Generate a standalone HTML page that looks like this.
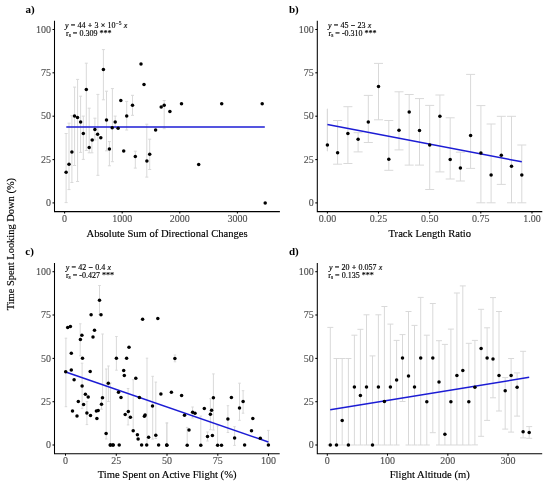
<!DOCTYPE html><html><head><meta charset="utf-8"><style>html,body{margin:0;padding:0;background:#fff;}svg{display:block;}</style></head><body>
<svg width="550" height="486" viewBox="0 0 550 486" font-family='"Liberation Serif", "Times New Roman", serif'>
<rect width="550" height="486" fill="#fff"/>
<g stroke="#d9d9d9" stroke-width="1" fill="none">
<line x1="66.1" y1="133.5" x2="66.1" y2="202.6"/><line x1="64.6" y1="133.5" x2="67.6" y2="133.5"/><line x1="64.6" y1="202.6" x2="67.6" y2="202.6"/>
<line x1="69.0" y1="123.2" x2="69.0" y2="189.6"/><line x1="67.5" y1="123.2" x2="70.5" y2="123.2"/><line x1="67.5" y1="189.6" x2="70.5" y2="189.6"/>
<line x1="71.9" y1="115.7" x2="71.9" y2="182.5"/><line x1="70.4" y1="115.7" x2="73.4" y2="115.7"/><line x1="70.4" y1="182.5" x2="73.4" y2="182.5"/>
<line x1="74.6" y1="87.1" x2="74.6" y2="165.5"/><line x1="73.1" y1="87.1" x2="76.1" y2="87.1"/><line x1="73.1" y1="165.5" x2="76.1" y2="165.5"/>
<line x1="77.6" y1="79.4" x2="77.6" y2="181.5"/><line x1="76.1" y1="79.4" x2="79.1" y2="79.4"/><line x1="76.1" y1="181.5" x2="79.1" y2="181.5"/>
<line x1="80.6" y1="96.2" x2="80.6" y2="152.4"/><line x1="79.1" y1="96.2" x2="82.1" y2="96.2"/><line x1="79.1" y1="152.4" x2="82.1" y2="152.4"/>
<line x1="83.3" y1="116.1" x2="83.3" y2="159.4"/><line x1="81.8" y1="116.1" x2="84.8" y2="116.1"/><line x1="81.8" y1="159.4" x2="84.8" y2="159.4"/>
<line x1="86.3" y1="63.2" x2="86.3" y2="150.5"/><line x1="84.8" y1="63.2" x2="87.8" y2="63.2"/><line x1="84.8" y1="150.5" x2="87.8" y2="150.5"/>
<line x1="89.2" y1="108.2" x2="89.2" y2="152.8"/><line x1="87.7" y1="108.2" x2="90.7" y2="108.2"/><line x1="87.7" y1="152.8" x2="90.7" y2="152.8"/>
<line x1="91.9" y1="140.0" x2="91.9" y2="152.8"/><line x1="90.4" y1="140.0" x2="93.4" y2="140.0"/><line x1="90.4" y1="152.8" x2="93.4" y2="152.8"/>
<line x1="94.9" y1="118.2" x2="94.9" y2="140.0"/><line x1="93.4" y1="118.2" x2="96.4" y2="118.2"/><line x1="93.4" y1="140.0" x2="96.4" y2="140.0"/>
<line x1="97.9" y1="94.4" x2="97.9" y2="175.3"/><line x1="96.4" y1="94.4" x2="99.4" y2="94.4"/><line x1="96.4" y1="175.3" x2="99.4" y2="175.3"/>
<line x1="103.4" y1="49.6" x2="103.4" y2="99.8"/><line x1="101.9" y1="49.6" x2="104.9" y2="49.6"/><line x1="101.9" y1="99.8" x2="104.9" y2="99.8"/>
<line x1="106.5" y1="91.2" x2="106.5" y2="150.8"/><line x1="105.0" y1="91.2" x2="108.0" y2="91.2"/><line x1="105.0" y1="150.8" x2="108.0" y2="150.8"/>
<line x1="109.4" y1="141.6" x2="109.4" y2="165.8"/><line x1="107.9" y1="141.6" x2="110.9" y2="141.6"/><line x1="107.9" y1="165.8" x2="110.9" y2="165.8"/>
<line x1="112.4" y1="88.6" x2="112.4" y2="161.7"/><line x1="110.9" y1="88.6" x2="113.9" y2="88.6"/><line x1="110.9" y1="161.7" x2="113.9" y2="161.7"/>
<line x1="115.2" y1="116.1" x2="115.2" y2="128.0"/><line x1="113.7" y1="116.1" x2="116.7" y2="116.1"/><line x1="113.7" y1="128.0" x2="116.7" y2="128.0"/>
<line x1="126.7" y1="101.4" x2="126.7" y2="130.0"/><line x1="125.2" y1="101.4" x2="128.2" y2="101.4"/><line x1="125.2" y1="130.0" x2="128.2" y2="130.0"/>
<line x1="132.5" y1="95.3" x2="132.5" y2="115.3"/><line x1="131.0" y1="95.3" x2="134.0" y2="95.3"/><line x1="131.0" y1="115.3" x2="134.0" y2="115.3"/>
<line x1="164.2" y1="100.5" x2="164.2" y2="128.7"/><line x1="162.7" y1="100.5" x2="165.7" y2="100.5"/><line x1="162.7" y1="128.7" x2="165.7" y2="128.7"/>
<line x1="146.8" y1="124.2" x2="146.8" y2="177.1"/><line x1="145.3" y1="124.2" x2="148.3" y2="124.2"/><line x1="145.3" y1="177.1" x2="148.3" y2="177.1"/>
<line x1="149.7" y1="139.2" x2="149.7" y2="169.5"/><line x1="148.2" y1="139.2" x2="151.2" y2="139.2"/><line x1="148.2" y1="169.5" x2="151.2" y2="169.5"/>
<line x1="135.3" y1="151.2" x2="135.3" y2="168.1"/><line x1="133.8" y1="151.2" x2="136.8" y2="151.2"/><line x1="133.8" y1="168.1" x2="136.8" y2="168.1"/>
<line x1="327.4" y1="108.8" x2="327.4" y2="151.2"/>
<line x1="327.4" y1="108.8" x2="327.4" y2="151.2"/>
<line x1="337.6" y1="120.5" x2="337.6" y2="164.2"/><line x1="333.1" y1="120.5" x2="342.1" y2="120.5"/><line x1="333.1" y1="164.2" x2="342.1" y2="164.2"/>
<line x1="347.9" y1="106.7" x2="347.9" y2="163.5"/><line x1="343.4" y1="106.7" x2="352.4" y2="106.7"/><line x1="343.4" y1="163.5" x2="352.4" y2="163.5"/>
<line x1="358.1" y1="132.7" x2="358.1" y2="151.9"/><line x1="353.6" y1="132.7" x2="362.6" y2="132.7"/><line x1="353.6" y1="151.9" x2="362.6" y2="151.9"/>
<line x1="368.3" y1="95.4" x2="368.3" y2="142.5"/><line x1="363.8" y1="95.4" x2="372.8" y2="95.4"/><line x1="363.8" y1="142.5" x2="372.8" y2="142.5"/>
<line x1="378.5" y1="63.4" x2="378.5" y2="119.8"/><line x1="374.0" y1="63.4" x2="383.0" y2="63.4"/><line x1="374.0" y1="119.8" x2="383.0" y2="119.8"/>
<line x1="388.8" y1="120.5" x2="388.8" y2="170.3"/><line x1="384.3" y1="120.5" x2="393.3" y2="120.5"/><line x1="384.3" y1="170.3" x2="393.3" y2="170.3"/>
<line x1="399.0" y1="91.8" x2="399.0" y2="149.9"/><line x1="394.5" y1="91.8" x2="403.5" y2="91.8"/><line x1="394.5" y1="149.9" x2="403.5" y2="149.9"/>
<line x1="409.2" y1="94.5" x2="409.2" y2="165.1"/><line x1="404.7" y1="94.5" x2="413.7" y2="94.5"/><line x1="404.7" y1="165.1" x2="413.7" y2="165.1"/>
<line x1="419.5" y1="98.6" x2="419.5" y2="165.1"/><line x1="415.0" y1="98.6" x2="424.0" y2="98.6"/><line x1="415.0" y1="165.1" x2="424.0" y2="165.1"/>
<line x1="429.7" y1="105.4" x2="429.7" y2="189.5"/><line x1="425.2" y1="105.4" x2="434.2" y2="105.4"/><line x1="425.2" y1="189.5" x2="434.2" y2="189.5"/>
<line x1="439.9" y1="95.0" x2="439.9" y2="171.9"/><line x1="435.4" y1="95.0" x2="444.4" y2="95.0"/><line x1="435.4" y1="171.9" x2="444.4" y2="171.9"/>
<line x1="450.2" y1="117.8" x2="450.2" y2="179.0"/><line x1="445.7" y1="117.8" x2="454.7" y2="117.8"/><line x1="445.7" y1="179.0" x2="454.7" y2="179.0"/>
<line x1="460.4" y1="152.2" x2="460.4" y2="181.0"/><line x1="455.9" y1="152.2" x2="464.9" y2="152.2"/><line x1="455.9" y1="181.0" x2="464.9" y2="181.0"/>
<line x1="470.6" y1="74.4" x2="470.6" y2="168.4"/><line x1="466.1" y1="74.4" x2="475.1" y2="74.4"/><line x1="466.1" y1="168.4" x2="475.1" y2="168.4"/>
<line x1="480.9" y1="105.6" x2="480.9" y2="202.8"/><line x1="476.4" y1="105.6" x2="485.4" y2="105.6"/><line x1="476.4" y1="202.8" x2="485.4" y2="202.8"/>
<line x1="491.1" y1="124.0" x2="491.1" y2="202.8"/><line x1="486.6" y1="124.0" x2="495.6" y2="124.0"/><line x1="486.6" y1="202.8" x2="495.6" y2="202.8"/>
<line x1="501.3" y1="116.3" x2="501.3" y2="184.4"/><line x1="496.8" y1="116.3" x2="505.8" y2="116.3"/><line x1="496.8" y1="184.4" x2="505.8" y2="184.4"/>
<line x1="511.5" y1="116.3" x2="511.5" y2="202.8"/><line x1="507.0" y1="116.3" x2="516.0" y2="116.3"/><line x1="507.0" y1="202.8" x2="516.0" y2="202.8"/>
<line x1="521.8" y1="145.0" x2="521.8" y2="202.8"/><line x1="517.3" y1="145.0" x2="526.3" y2="145.0"/><line x1="517.3" y1="202.8" x2="526.3" y2="202.8"/>
<line x1="99.5" y1="285.5" x2="99.5" y2="314.5"/><line x1="98.2" y1="285.5" x2="100.8" y2="285.5"/><line x1="98.2" y1="314.5" x2="100.8" y2="314.5"/>
<line x1="80.2" y1="323.8" x2="80.2" y2="355.8"/><line x1="79.0" y1="323.8" x2="81.5" y2="323.8"/><line x1="79.0" y1="355.8" x2="81.5" y2="355.8"/>
<line x1="102.6" y1="334.0" x2="102.6" y2="398.0"/><line x1="101.3" y1="334.0" x2="103.8" y2="334.0"/><line x1="101.3" y1="398.0" x2="103.8" y2="398.0"/>
<line x1="65.9" y1="338.2" x2="65.9" y2="406.7"/><line x1="64.7" y1="338.2" x2="67.2" y2="338.2"/><line x1="64.7" y1="406.7" x2="67.2" y2="406.7"/>
<line x1="82.1" y1="363.2" x2="82.1" y2="408.6"/><line x1="80.8" y1="363.2" x2="83.3" y2="363.2"/><line x1="80.8" y1="408.6" x2="83.3" y2="408.6"/>
<line x1="106.2" y1="369.0" x2="106.2" y2="439.0"/><line x1="105.0" y1="369.0" x2="107.5" y2="369.0"/><line x1="105.0" y1="439.0" x2="107.5" y2="439.0"/>
<line x1="108.4" y1="366.0" x2="108.4" y2="401.5"/><line x1="107.2" y1="366.0" x2="109.7" y2="366.0"/><line x1="107.2" y1="401.5" x2="109.7" y2="401.5"/>
<line x1="86.9" y1="401.6" x2="86.9" y2="424.6"/><line x1="85.7" y1="401.6" x2="88.2" y2="401.6"/><line x1="85.7" y1="424.6" x2="88.2" y2="424.6"/>
<line x1="101.5" y1="398.0" x2="101.5" y2="409.2"/><line x1="100.2" y1="398.0" x2="102.8" y2="398.0"/><line x1="100.2" y1="409.2" x2="102.8" y2="409.2"/>
<line x1="110.4" y1="383.0" x2="110.4" y2="445.0"/><line x1="109.2" y1="383.0" x2="111.7" y2="383.0"/><line x1="109.2" y1="445.0" x2="111.7" y2="445.0"/>
<line x1="116.4" y1="336.5" x2="116.4" y2="370.2"/><line x1="115.2" y1="336.5" x2="117.7" y2="336.5"/><line x1="115.2" y1="370.2" x2="117.7" y2="370.2"/>
<line x1="147.0" y1="358.2" x2="147.0" y2="445.0"/><line x1="145.8" y1="358.2" x2="148.2" y2="358.2"/><line x1="145.8" y1="445.0" x2="148.2" y2="445.0"/>
<line x1="152.7" y1="376.3" x2="152.7" y2="439.1"/><line x1="151.4" y1="376.3" x2="153.9" y2="376.3"/><line x1="151.4" y1="439.1" x2="153.9" y2="439.1"/>
<line x1="155.8" y1="382.1" x2="155.8" y2="438.5"/><line x1="154.6" y1="382.1" x2="157.1" y2="382.1"/><line x1="154.6" y1="438.5" x2="157.1" y2="438.5"/>
<line x1="133.2" y1="379.7" x2="133.2" y2="430.8"/><line x1="131.9" y1="379.7" x2="134.4" y2="379.7"/><line x1="131.9" y1="430.8" x2="134.4" y2="430.8"/>
<line x1="128.1" y1="388.5" x2="128.1" y2="424.9"/><line x1="126.8" y1="388.5" x2="129.3" y2="388.5"/><line x1="126.8" y1="424.9" x2="129.3" y2="424.9"/>
<line x1="174.9" y1="355.0" x2="174.9" y2="361.8"/><line x1="173.7" y1="355.0" x2="176.2" y2="355.0"/><line x1="173.7" y1="361.8" x2="176.2" y2="361.8"/>
<line x1="166.8" y1="423.1" x2="166.8" y2="445.0"/><line x1="165.6" y1="423.1" x2="168.1" y2="423.1"/><line x1="165.6" y1="445.0" x2="168.1" y2="445.0"/>
<line x1="166.9" y1="422.9" x2="166.9" y2="445.0"/><line x1="165.7" y1="422.9" x2="168.2" y2="422.9"/><line x1="165.7" y1="445.0" x2="168.2" y2="445.0"/>
<line x1="187.2" y1="427.4" x2="187.2" y2="445.0"/><line x1="185.9" y1="427.4" x2="188.4" y2="427.4"/><line x1="185.9" y1="445.0" x2="188.4" y2="445.0"/>
<line x1="200.8" y1="416.1" x2="200.8" y2="445.0"/><line x1="199.6" y1="416.1" x2="202.1" y2="416.1"/><line x1="199.6" y1="445.0" x2="202.1" y2="445.0"/>
<line x1="192.6" y1="407.0" x2="192.6" y2="418.0"/><line x1="191.3" y1="407.0" x2="193.8" y2="407.0"/><line x1="191.3" y1="418.0" x2="193.8" y2="418.0"/>
<line x1="210.4" y1="398.7" x2="210.4" y2="429.7"/><line x1="209.2" y1="398.7" x2="211.7" y2="398.7"/><line x1="209.2" y1="429.7" x2="211.7" y2="429.7"/>
<line x1="213.4" y1="373.9" x2="213.4" y2="430.0"/><line x1="212.2" y1="373.9" x2="214.7" y2="373.9"/><line x1="212.2" y1="430.0" x2="214.7" y2="430.0"/>
<line x1="207.5" y1="432.0" x2="207.5" y2="441.0"/><line x1="206.2" y1="432.0" x2="208.8" y2="432.0"/><line x1="206.2" y1="441.0" x2="208.8" y2="441.0"/>
<line x1="217.6" y1="425.8" x2="217.6" y2="445.0"/><line x1="216.3" y1="425.8" x2="218.8" y2="425.8"/><line x1="216.3" y1="445.0" x2="218.8" y2="445.0"/>
<line x1="243.1" y1="390.7" x2="243.1" y2="413.2"/><line x1="241.8" y1="390.7" x2="244.3" y2="390.7"/><line x1="241.8" y1="413.2" x2="244.3" y2="413.2"/>
<line x1="239.5" y1="383.2" x2="239.5" y2="420.3"/><line x1="238.2" y1="383.2" x2="240.8" y2="383.2"/><line x1="238.2" y1="420.3" x2="240.8" y2="420.3"/>
<line x1="227.9" y1="405.7" x2="227.9" y2="432.5"/><line x1="226.7" y1="405.7" x2="229.2" y2="405.7"/><line x1="226.7" y1="432.5" x2="229.2" y2="432.5"/>
<line x1="234.6" y1="426.7" x2="234.6" y2="445.4"/><line x1="233.3" y1="426.7" x2="235.8" y2="426.7"/><line x1="233.3" y1="445.4" x2="235.8" y2="445.4"/>
<line x1="268.4" y1="430.4" x2="268.4" y2="445.0"/><line x1="267.1" y1="430.4" x2="269.6" y2="430.4"/><line x1="267.1" y1="445.0" x2="269.6" y2="445.0"/>
<line x1="330.3" y1="327.4" x2="330.3" y2="445.0"/><line x1="327.3" y1="327.4" x2="333.3" y2="327.4"/><line x1="327.3" y1="445.0" x2="333.3" y2="445.0"/>
<line x1="336.5" y1="358.5" x2="336.5" y2="445.0"/><line x1="333.5" y1="358.5" x2="339.5" y2="358.5"/><line x1="333.5" y1="445.0" x2="339.5" y2="445.0"/>
<line x1="342.2" y1="358.5" x2="342.2" y2="445.0"/><line x1="339.2" y1="358.5" x2="345.2" y2="358.5"/><line x1="339.2" y1="445.0" x2="345.2" y2="445.0"/>
<line x1="348.4" y1="358.5" x2="348.4" y2="445.0"/><line x1="345.4" y1="358.5" x2="351.4" y2="358.5"/><line x1="345.4" y1="445.0" x2="351.4" y2="445.0"/>
<line x1="354.4" y1="335.2" x2="354.4" y2="445.0"/><line x1="351.4" y1="335.2" x2="357.4" y2="335.2"/><line x1="351.4" y1="445.0" x2="357.4" y2="445.0"/>
<line x1="360.4" y1="329.3" x2="360.4" y2="445.0"/><line x1="357.4" y1="329.3" x2="363.4" y2="329.3"/><line x1="357.4" y1="445.0" x2="363.4" y2="445.0"/>
<line x1="366.5" y1="314.8" x2="366.5" y2="445.0"/><line x1="363.5" y1="314.8" x2="369.5" y2="314.8"/><line x1="363.5" y1="445.0" x2="369.5" y2="445.0"/>
<line x1="372.5" y1="355.9" x2="372.5" y2="445.0"/><line x1="369.5" y1="355.9" x2="375.5" y2="355.9"/><line x1="369.5" y1="445.0" x2="375.5" y2="445.0"/>
<line x1="378.4" y1="314.8" x2="378.4" y2="445.0"/><line x1="375.4" y1="314.8" x2="381.4" y2="314.8"/><line x1="375.4" y1="445.0" x2="381.4" y2="445.0"/>
<line x1="384.4" y1="306.5" x2="384.4" y2="445.0"/><line x1="381.4" y1="306.5" x2="387.4" y2="306.5"/><line x1="381.4" y1="445.0" x2="387.4" y2="445.0"/>
<line x1="390.4" y1="324.1" x2="390.4" y2="445.0"/><line x1="387.4" y1="324.1" x2="393.4" y2="324.1"/><line x1="387.4" y1="445.0" x2="393.4" y2="445.0"/>
<line x1="396.6" y1="340.4" x2="396.6" y2="445.0"/><line x1="393.6" y1="340.4" x2="399.6" y2="340.4"/><line x1="393.6" y1="445.0" x2="399.6" y2="445.0"/>
<line x1="402.5" y1="334.6" x2="402.5" y2="401.5"/><line x1="399.5" y1="334.6" x2="405.5" y2="334.6"/><line x1="399.5" y1="401.5" x2="405.5" y2="401.5"/>
<line x1="408.5" y1="311.5" x2="408.5" y2="445.0"/><line x1="405.5" y1="311.5" x2="411.5" y2="311.5"/><line x1="405.5" y1="445.0" x2="411.5" y2="445.0"/>
<line x1="414.5" y1="325.4" x2="414.5" y2="445.0"/><line x1="411.5" y1="325.4" x2="417.5" y2="325.4"/><line x1="411.5" y1="445.0" x2="417.5" y2="445.0"/>
<line x1="420.7" y1="297.4" x2="420.7" y2="445.0"/><line x1="417.7" y1="297.4" x2="423.7" y2="297.4"/><line x1="417.7" y1="445.0" x2="423.7" y2="445.0"/>
<line x1="426.8" y1="335.2" x2="426.8" y2="445.0"/><line x1="423.8" y1="335.2" x2="429.8" y2="335.2"/><line x1="423.8" y1="445.0" x2="429.8" y2="445.0"/>
<line x1="432.8" y1="303.5" x2="432.8" y2="432.7"/><line x1="429.8" y1="303.5" x2="435.8" y2="303.5"/><line x1="429.8" y1="432.7" x2="435.8" y2="432.7"/>
<line x1="439.0" y1="340.7" x2="439.0" y2="445.0"/><line x1="436.0" y1="340.7" x2="442.0" y2="340.7"/><line x1="436.0" y1="445.0" x2="442.0" y2="445.0"/>
<line x1="444.9" y1="344.4" x2="444.9" y2="445.0"/><line x1="441.9" y1="344.4" x2="447.9" y2="344.4"/><line x1="441.9" y1="445.0" x2="447.9" y2="445.0"/>
<line x1="450.9" y1="329.1" x2="450.9" y2="445.0"/><line x1="447.9" y1="329.1" x2="453.9" y2="329.1"/><line x1="447.9" y1="445.0" x2="453.9" y2="445.0"/>
<line x1="456.9" y1="293.0" x2="456.9" y2="445.0"/><line x1="453.9" y1="293.0" x2="459.9" y2="293.0"/><line x1="453.9" y1="445.0" x2="459.9" y2="445.0"/>
<line x1="462.8" y1="285.9" x2="462.8" y2="445.0"/><line x1="459.8" y1="285.9" x2="465.8" y2="285.9"/><line x1="459.8" y1="445.0" x2="465.8" y2="445.0"/>
<line x1="468.8" y1="343.3" x2="468.8" y2="445.0"/><line x1="465.8" y1="343.3" x2="471.8" y2="343.3"/><line x1="465.8" y1="445.0" x2="471.8" y2="445.0"/>
<line x1="474.9" y1="340.4" x2="474.9" y2="444.9"/><line x1="471.9" y1="340.4" x2="477.9" y2="340.4"/><line x1="471.9" y1="444.9" x2="477.9" y2="444.9"/>
<line x1="481.1" y1="309.3" x2="481.1" y2="436.3"/><line x1="478.1" y1="309.3" x2="484.1" y2="309.3"/><line x1="478.1" y1="436.3" x2="484.1" y2="436.3"/>
<line x1="487.1" y1="327.8" x2="487.1" y2="420.4"/><line x1="484.1" y1="327.8" x2="490.1" y2="327.8"/><line x1="484.1" y1="420.4" x2="490.1" y2="420.4"/>
<line x1="493.0" y1="297.6" x2="493.0" y2="397.8"/><line x1="490.0" y1="297.6" x2="496.0" y2="297.6"/><line x1="490.0" y1="397.8" x2="496.0" y2="397.8"/>
<line x1="499.0" y1="311.5" x2="499.0" y2="411.0"/><line x1="496.0" y1="311.5" x2="502.0" y2="311.5"/><line x1="496.0" y1="411.0" x2="502.0" y2="411.0"/>
<line x1="505.2" y1="377.6" x2="505.2" y2="429.1"/><line x1="502.2" y1="377.6" x2="508.2" y2="377.6"/><line x1="502.2" y1="429.1" x2="508.2" y2="429.1"/>
<line x1="511.1" y1="358.5" x2="511.1" y2="432.1"/><line x1="508.1" y1="358.5" x2="514.1" y2="358.5"/><line x1="508.1" y1="432.1" x2="514.1" y2="432.1"/>
<line x1="517.1" y1="372.9" x2="517.1" y2="416.1"/><line x1="514.1" y1="372.9" x2="520.1" y2="372.9"/><line x1="514.1" y1="416.1" x2="520.1" y2="416.1"/>
<line x1="523.1" y1="351.3" x2="523.1" y2="437.9"/><line x1="520.1" y1="351.3" x2="526.1" y2="351.3"/><line x1="520.1" y1="437.9" x2="526.1" y2="437.9"/>
<line x1="529.2" y1="426.6" x2="529.2" y2="438.3"/><line x1="526.2" y1="426.6" x2="532.2" y2="426.6"/><line x1="526.2" y1="438.3" x2="532.2" y2="438.3"/>
</g>
<g stroke="#1c1cd4" stroke-width="1.5" fill="none">
<line x1="66.3" y1="127.0" x2="264.8" y2="126.9"/>
<line x1="327.4" y1="124.6" x2="521.8" y2="161.8"/>
<line x1="65.0" y1="371.7" x2="268.4" y2="442.0"/>
<line x1="330.2" y1="409.7" x2="529.2" y2="377.3"/>
</g>
<g fill="#000">
<circle cx="103.4" cy="69.4" r="1.75"/>
<circle cx="86.3" cy="89.4" r="1.75"/>
<circle cx="120.8" cy="100.5" r="1.75"/>
<circle cx="126.7" cy="116.1" r="1.75"/>
<circle cx="74.5" cy="116.0" r="1.75"/>
<circle cx="77.5" cy="117.4" r="1.75"/>
<circle cx="80.6" cy="122.0" r="1.75"/>
<circle cx="106.5" cy="120.0" r="1.75"/>
<circle cx="115.2" cy="122.0" r="1.75"/>
<circle cx="112.2" cy="127.7" r="1.75"/>
<circle cx="118.1" cy="128.3" r="1.75"/>
<circle cx="94.9" cy="129.5" r="1.75"/>
<circle cx="83.3" cy="133.5" r="1.75"/>
<circle cx="97.6" cy="134.3" r="1.75"/>
<circle cx="100.8" cy="137.8" r="1.75"/>
<circle cx="92.2" cy="140.0" r="1.75"/>
<circle cx="89.2" cy="147.4" r="1.75"/>
<circle cx="109.4" cy="149.1" r="1.75"/>
<circle cx="66.1" cy="172.3" r="1.75"/>
<circle cx="69.0" cy="164.3" r="1.75"/>
<circle cx="71.9" cy="152.1" r="1.75"/>
<circle cx="123.7" cy="150.9" r="1.75"/>
<circle cx="141.0" cy="64.0" r="1.75"/>
<circle cx="144.0" cy="84.6" r="1.75"/>
<circle cx="132.5" cy="105.2" r="1.75"/>
<circle cx="161.2" cy="107.1" r="1.75"/>
<circle cx="164.2" cy="105.2" r="1.75"/>
<circle cx="169.9" cy="111.6" r="1.75"/>
<circle cx="181.5" cy="103.7" r="1.75"/>
<circle cx="155.6" cy="130.0" r="1.75"/>
<circle cx="135.3" cy="156.4" r="1.75"/>
<circle cx="146.9" cy="161.0" r="1.75"/>
<circle cx="149.7" cy="154.3" r="1.75"/>
<circle cx="198.7" cy="164.4" r="1.75"/>
<circle cx="221.7" cy="103.7" r="1.75"/>
<circle cx="262.2" cy="103.7" r="1.75"/>
<circle cx="265.2" cy="203.1" r="1.75"/>
<circle cx="327.4" cy="145.0" r="1.75"/>
<circle cx="337.6" cy="152.7" r="1.75"/>
<circle cx="347.9" cy="133.4" r="1.75"/>
<circle cx="358.1" cy="139.3" r="1.75"/>
<circle cx="368.3" cy="122.0" r="1.75"/>
<circle cx="378.5" cy="86.5" r="1.75"/>
<circle cx="388.8" cy="159.2" r="1.75"/>
<circle cx="399.0" cy="130.2" r="1.75"/>
<circle cx="409.2" cy="112.1" r="1.75"/>
<circle cx="419.5" cy="130.5" r="1.75"/>
<circle cx="429.7" cy="145.0" r="1.75"/>
<circle cx="439.9" cy="116.3" r="1.75"/>
<circle cx="450.2" cy="159.4" r="1.75"/>
<circle cx="460.4" cy="168.1" r="1.75"/>
<circle cx="470.6" cy="135.6" r="1.75"/>
<circle cx="480.9" cy="153.1" r="1.75"/>
<circle cx="491.1" cy="175.0" r="1.75"/>
<circle cx="501.3" cy="155.3" r="1.75"/>
<circle cx="511.5" cy="166.3" r="1.75"/>
<circle cx="521.8" cy="175.0" r="1.75"/>
<circle cx="99.5" cy="300.2" r="1.75"/>
<circle cx="91.1" cy="314.8" r="1.75"/>
<circle cx="101.0" cy="314.8" r="1.75"/>
<circle cx="67.7" cy="327.4" r="1.75"/>
<circle cx="70.4" cy="326.6" r="1.75"/>
<circle cx="94.5" cy="330.2" r="1.75"/>
<circle cx="81.9" cy="335.3" r="1.75"/>
<circle cx="93.0" cy="337.1" r="1.75"/>
<circle cx="80.4" cy="339.6" r="1.75"/>
<circle cx="71.3" cy="353.3" r="1.75"/>
<circle cx="82.5" cy="358.3" r="1.75"/>
<circle cx="71.3" cy="370.0" r="1.75"/>
<circle cx="65.7" cy="371.8" r="1.75"/>
<circle cx="90.2" cy="371.4" r="1.75"/>
<circle cx="74.1" cy="379.8" r="1.75"/>
<circle cx="108.3" cy="383.3" r="1.75"/>
<circle cx="82.1" cy="386.0" r="1.75"/>
<circle cx="85.4" cy="394.2" r="1.75"/>
<circle cx="88.2" cy="396.9" r="1.75"/>
<circle cx="102.5" cy="397.7" r="1.75"/>
<circle cx="78.3" cy="401.6" r="1.75"/>
<circle cx="83.6" cy="404.5" r="1.75"/>
<circle cx="101.5" cy="404.3" r="1.75"/>
<circle cx="72.5" cy="410.9" r="1.75"/>
<circle cx="77.0" cy="416.0" r="1.75"/>
<circle cx="86.9" cy="413.1" r="1.75"/>
<circle cx="90.5" cy="415.4" r="1.75"/>
<circle cx="96.4" cy="411.1" r="1.75"/>
<circle cx="98.2" cy="410.5" r="1.75"/>
<circle cx="96.9" cy="418.4" r="1.75"/>
<circle cx="106.1" cy="433.5" r="1.75"/>
<circle cx="110.2" cy="445.0" r="1.75"/>
<circle cx="112.7" cy="445.0" r="1.75"/>
<circle cx="142.6" cy="319.3" r="1.75"/>
<circle cx="157.8" cy="318.6" r="1.75"/>
<circle cx="129.0" cy="347.3" r="1.75"/>
<circle cx="116.4" cy="358.2" r="1.75"/>
<circle cx="126.6" cy="358.2" r="1.75"/>
<circle cx="123.7" cy="370.6" r="1.75"/>
<circle cx="124.3" cy="375.6" r="1.75"/>
<circle cx="135.8" cy="378.3" r="1.75"/>
<circle cx="118.5" cy="392.3" r="1.75"/>
<circle cx="121.0" cy="397.6" r="1.75"/>
<circle cx="139.4" cy="397.6" r="1.75"/>
<circle cx="160.9" cy="394.0" r="1.75"/>
<circle cx="152.5" cy="405.9" r="1.75"/>
<circle cx="128.3" cy="411.6" r="1.75"/>
<circle cx="125.2" cy="414.4" r="1.75"/>
<circle cx="130.4" cy="417.2" r="1.75"/>
<circle cx="145.1" cy="415.1" r="1.75"/>
<circle cx="144.4" cy="416.3" r="1.75"/>
<circle cx="133.2" cy="430.8" r="1.75"/>
<circle cx="137.4" cy="434.7" r="1.75"/>
<circle cx="138.1" cy="438.9" r="1.75"/>
<circle cx="148.6" cy="437.3" r="1.75"/>
<circle cx="155.8" cy="435.2" r="1.75"/>
<circle cx="110.5" cy="445.0" r="1.75"/>
<circle cx="113.3" cy="445.0" r="1.75"/>
<circle cx="119.2" cy="445.0" r="1.75"/>
<circle cx="141.6" cy="445.0" r="1.75"/>
<circle cx="146.7" cy="445.0" r="1.75"/>
<circle cx="158.6" cy="445.0" r="1.75"/>
<circle cx="166.7" cy="445.0" r="1.75"/>
<circle cx="174.9" cy="358.4" r="1.75"/>
<circle cx="171.4" cy="392.3" r="1.75"/>
<circle cx="181.6" cy="395.4" r="1.75"/>
<circle cx="213.4" cy="397.7" r="1.75"/>
<circle cx="204.3" cy="408.4" r="1.75"/>
<circle cx="211.6" cy="410.3" r="1.75"/>
<circle cx="192.6" cy="412.3" r="1.75"/>
<circle cx="195.0" cy="413.2" r="1.75"/>
<circle cx="210.4" cy="414.2" r="1.75"/>
<circle cx="184.5" cy="415.2" r="1.75"/>
<circle cx="189.0" cy="429.9" r="1.75"/>
<circle cx="207.5" cy="436.4" r="1.75"/>
<circle cx="212.4" cy="435.5" r="1.75"/>
<circle cx="166.9" cy="445.2" r="1.75"/>
<circle cx="187.2" cy="445.2" r="1.75"/>
<circle cx="200.8" cy="445.2" r="1.75"/>
<circle cx="217.6" cy="445.2" r="1.75"/>
<circle cx="221.5" cy="445.2" r="1.75"/>
<circle cx="231.4" cy="397.6" r="1.75"/>
<circle cx="243.1" cy="401.4" r="1.75"/>
<circle cx="239.5" cy="407.9" r="1.75"/>
<circle cx="227.9" cy="419.0" r="1.75"/>
<circle cx="252.8" cy="418.6" r="1.75"/>
<circle cx="251.5" cy="430.8" r="1.75"/>
<circle cx="234.6" cy="437.9" r="1.75"/>
<circle cx="260.3" cy="438.3" r="1.75"/>
<circle cx="244.6" cy="445.0" r="1.75"/>
<circle cx="268.4" cy="445.0" r="1.75"/>
<circle cx="330.3" cy="445.0" r="1.75"/>
<circle cx="336.5" cy="445.0" r="1.75"/>
<circle cx="342.2" cy="420.5" r="1.75"/>
<circle cx="348.4" cy="445.0" r="1.75"/>
<circle cx="354.4" cy="387.1" r="1.75"/>
<circle cx="360.4" cy="395.4" r="1.75"/>
<circle cx="366.5" cy="387.1" r="1.75"/>
<circle cx="372.5" cy="445.0" r="1.75"/>
<circle cx="378.4" cy="387.1" r="1.75"/>
<circle cx="384.4" cy="401.5" r="1.75"/>
<circle cx="390.4" cy="387.1" r="1.75"/>
<circle cx="396.6" cy="380.1" r="1.75"/>
<circle cx="402.5" cy="358.1" r="1.75"/>
<circle cx="408.5" cy="376.0" r="1.75"/>
<circle cx="414.5" cy="387.1" r="1.75"/>
<circle cx="420.7" cy="358.1" r="1.75"/>
<circle cx="426.8" cy="401.8" r="1.75"/>
<circle cx="432.8" cy="358.1" r="1.75"/>
<circle cx="439.0" cy="382.0" r="1.75"/>
<circle cx="444.9" cy="434.3" r="1.75"/>
<circle cx="450.9" cy="401.8" r="1.75"/>
<circle cx="456.9" cy="375.6" r="1.75"/>
<circle cx="462.8" cy="370.4" r="1.75"/>
<circle cx="468.8" cy="401.8" r="1.75"/>
<circle cx="474.9" cy="387.3" r="1.75"/>
<circle cx="481.1" cy="348.5" r="1.75"/>
<circle cx="487.1" cy="358.1" r="1.75"/>
<circle cx="493.0" cy="359.1" r="1.75"/>
<circle cx="499.0" cy="375.6" r="1.75"/>
<circle cx="505.2" cy="390.8" r="1.75"/>
<circle cx="511.1" cy="375.6" r="1.75"/>
<circle cx="517.1" cy="387.3" r="1.75"/>
<circle cx="523.1" cy="431.7" r="1.75"/>
<circle cx="529.2" cy="432.6" r="1.75"/>
</g>
<g stroke="#000" stroke-width="1.05" fill="none"><path d="M54.5,20.8 V211.6 H279.9"/><line x1="52.5" y1="202.9" x2="54.5" y2="202.9"/><line x1="52.5" y1="159.6" x2="54.5" y2="159.6"/><line x1="52.5" y1="116.2" x2="54.5" y2="116.2"/><line x1="52.5" y1="72.8" x2="54.5" y2="72.8"/><line x1="52.5" y1="29.5" x2="54.5" y2="29.5"/><line x1="64.6" y1="211.6" x2="64.6" y2="213.6"/><line x1="122.2" y1="211.6" x2="122.2" y2="213.6"/><line x1="179.8" y1="211.6" x2="179.8" y2="213.6"/><line x1="237.4" y1="211.6" x2="237.4" y2="213.6"/></g><g fill="#4d4d4d" font-size="10px" text-anchor="end" stroke="#4d4d4d" stroke-width="0.12"><text transform="translate(51.0,206.13) scale(1,1.05)">0</text><text transform="translate(51.0,162.76) scale(1,1.05)">25</text><text transform="translate(51.0,119.40) scale(1,1.05)">50</text><text transform="translate(51.0,76.04) scale(1,1.05)">75</text><text transform="translate(51.0,32.67) scale(1,1.05)">100</text></g><g fill="#4d4d4d" font-size="10px" text-anchor="middle" stroke="#4d4d4d" stroke-width="0.12"><text transform="translate(64.6,222.3) scale(1,1.05)">0</text><text transform="translate(122.2,222.3) scale(1,1.05)">1000</text><text transform="translate(179.8,222.3) scale(1,1.05)">2000</text><text transform="translate(237.4,222.3) scale(1,1.05)">3000</text></g>
<g stroke="#000" stroke-width="1.05" fill="none"><path d="M317.3,20.8 V211.6 H542.3"/><line x1="315.3" y1="202.9" x2="317.3" y2="202.9"/><line x1="315.3" y1="159.6" x2="317.3" y2="159.6"/><line x1="315.3" y1="116.2" x2="317.3" y2="116.2"/><line x1="315.3" y1="72.8" x2="317.3" y2="72.8"/><line x1="315.3" y1="29.5" x2="317.3" y2="29.5"/><line x1="327.4" y1="211.6" x2="327.4" y2="213.6"/><line x1="378.5" y1="211.6" x2="378.5" y2="213.6"/><line x1="429.7" y1="211.6" x2="429.7" y2="213.6"/><line x1="480.8" y1="211.6" x2="480.8" y2="213.6"/><line x1="532.0" y1="211.6" x2="532.0" y2="213.6"/></g><g fill="#4d4d4d" font-size="10px" text-anchor="end" stroke="#4d4d4d" stroke-width="0.12"><text transform="translate(313.8,206.13) scale(1,1.05)">0</text><text transform="translate(313.8,162.76) scale(1,1.05)">25</text><text transform="translate(313.8,119.40) scale(1,1.05)">50</text><text transform="translate(313.8,76.04) scale(1,1.05)">75</text><text transform="translate(313.8,32.67) scale(1,1.05)">100</text></g><g fill="#4d4d4d" font-size="10px" text-anchor="middle" stroke="#4d4d4d" stroke-width="0.12"><text transform="translate(327.4,222.3) scale(1,1.05)">0.00</text><text transform="translate(378.5,222.3) scale(1,1.05)">0.25</text><text transform="translate(429.7,222.3) scale(1,1.05)">0.50</text><text transform="translate(480.8,222.3) scale(1,1.05)">0.75</text><text transform="translate(532.0,222.3) scale(1,1.05)">1.00</text></g>
<g stroke="#000" stroke-width="1.05" fill="none"><path d="M54.5,263.0 V453.7 H279.7"/><line x1="52.5" y1="445.0" x2="54.5" y2="445.0"/><line x1="52.5" y1="401.7" x2="54.5" y2="401.7"/><line x1="52.5" y1="358.4" x2="54.5" y2="358.4"/><line x1="52.5" y1="315.0" x2="54.5" y2="315.0"/><line x1="52.5" y1="271.7" x2="54.5" y2="271.7"/><line x1="65.5" y1="453.7" x2="65.5" y2="455.7"/><line x1="116.3" y1="453.7" x2="116.3" y2="455.7"/><line x1="167.0" y1="453.7" x2="167.0" y2="455.7"/><line x1="217.8" y1="453.7" x2="217.8" y2="455.7"/><line x1="268.5" y1="453.7" x2="268.5" y2="455.7"/></g><g fill="#4d4d4d" font-size="10px" text-anchor="end" stroke="#4d4d4d" stroke-width="0.12"><text transform="translate(51.0,448.23) scale(1,1.05)">0</text><text transform="translate(51.0,404.89) scale(1,1.05)">25</text><text transform="translate(51.0,361.55) scale(1,1.05)">50</text><text transform="translate(51.0,318.21) scale(1,1.05)">75</text><text transform="translate(51.0,274.87) scale(1,1.05)">100</text></g><g fill="#4d4d4d" font-size="10px" text-anchor="middle" stroke="#4d4d4d" stroke-width="0.12"><text transform="translate(65.5,464.4) scale(1,1.05)">0</text><text transform="translate(116.3,464.4) scale(1,1.05)">25</text><text transform="translate(167.0,464.4) scale(1,1.05)">50</text><text transform="translate(217.8,464.4) scale(1,1.05)">75</text><text transform="translate(268.5,464.4) scale(1,1.05)">100</text></g>
<g stroke="#000" stroke-width="1.05" fill="none"><path d="M317.3,263.0 V453.7 H542.2"/><line x1="315.3" y1="445.0" x2="317.3" y2="445.0"/><line x1="315.3" y1="401.7" x2="317.3" y2="401.7"/><line x1="315.3" y1="358.4" x2="317.3" y2="358.4"/><line x1="315.3" y1="315.0" x2="317.3" y2="315.0"/><line x1="315.3" y1="271.7" x2="317.3" y2="271.7"/><line x1="327.3" y1="453.7" x2="327.3" y2="455.7"/><line x1="387.5" y1="453.7" x2="387.5" y2="455.7"/><line x1="447.8" y1="453.7" x2="447.8" y2="455.7"/><line x1="508.0" y1="453.7" x2="508.0" y2="455.7"/></g><g fill="#4d4d4d" font-size="10px" text-anchor="end" stroke="#4d4d4d" stroke-width="0.12"><text transform="translate(313.8,448.23) scale(1,1.05)">0</text><text transform="translate(313.8,404.89) scale(1,1.05)">25</text><text transform="translate(313.8,361.55) scale(1,1.05)">50</text><text transform="translate(313.8,318.21) scale(1,1.05)">75</text><text transform="translate(313.8,274.87) scale(1,1.05)">100</text></g><g fill="#4d4d4d" font-size="10px" text-anchor="middle" stroke="#4d4d4d" stroke-width="0.12"><text transform="translate(327.3,464.4) scale(1,1.05)">0</text><text transform="translate(387.5,464.4) scale(1,1.05)">100</text><text transform="translate(447.8,464.4) scale(1,1.05)">200</text><text transform="translate(508.0,464.4) scale(1,1.05)">300</text></g>
<g fill="#000" font-size="10.6px" text-anchor="middle" stroke="#000" stroke-width="0.15">
<text transform="translate(167.1,236.7) scale(1,1.05)">Absolute Sum of Directional Changes</text>
<text transform="translate(429.8,236.7) scale(1,1.05)">Track Length Ratio</text>
<text transform="translate(167.1,478.2) scale(1,1.05)">Time Spent on Active Flight (%)</text>
<text transform="translate(429.7,478.2) scale(1,1.05)">Flight Altitude (m)</text>
<text transform="translate(14.4,244.15) rotate(-90) scale(1,1.05)" font-size="10.45px">Time Spent Looking Down (%)</text>
</g>
<g fill="#000" font-size="11px" font-weight="bold">
<text x="25.6" y="13.2">a)</text>
<text x="288.9" y="13.2">b)</text>
<text x="25.3" y="254.9">c)</text>
<text x="288.9" y="254.9">d)</text>
</g>
<text x="65.1" y="27.8" font-size="8px" fill="#000" stroke="#000" stroke-width="0.15" word-spacing="0.2"><tspan font-style="italic">y</tspan> <tspan font-weight="bold">=</tspan> 44 <tspan font-weight="bold">+</tspan> 3 <tspan font-weight="bold">×</tspan> 10<tspan font-size="5.5px" dy="-3">−5</tspan><tspan dy="3"> </tspan><tspan font-style="italic">x</tspan></text><text x="66.0" y="35.8" font-size="8px" fill="#000" stroke="#000" stroke-width="0.15">r<tspan font-size="5.5px" dy="1.2">s</tspan><tspan dy="-1.2"> </tspan><tspan font-weight="bold">=</tspan> 0.309 ***</text>
<text x="328.0" y="27.8" font-size="8px" fill="#000" stroke="#000" stroke-width="0.15" word-spacing="0.2"><tspan font-style="italic">y</tspan> <tspan font-weight="bold">=</tspan> 45 <tspan font-weight="bold">−</tspan> 23 <tspan font-style="italic">x</tspan></text><text x="328.5" y="35.8" font-size="8px" fill="#000" stroke="#000" stroke-width="0.15">r<tspan font-size="5.5px" dy="1.2">s</tspan><tspan dy="-1.2"> </tspan><tspan font-weight="bold">=</tspan> -0.310 ***</text>
<text x="65.8" y="269.6" font-size="8px" fill="#000" stroke="#000" stroke-width="0.15" word-spacing="0.2"><tspan font-style="italic">y</tspan> <tspan font-weight="bold">=</tspan> 42 <tspan font-weight="bold">−</tspan> 0.4 <tspan font-style="italic">x</tspan></text><text x="65.9" y="277.6" font-size="8px" fill="#000" stroke="#000" stroke-width="0.15">r<tspan font-size="5.5px" dy="1.2">s</tspan><tspan dy="-1.2"> </tspan><tspan font-weight="bold">=</tspan> -0.427 ***</text>
<text x="329.0" y="269.6" font-size="8px" fill="#000" stroke="#000" stroke-width="0.15" word-spacing="0.2"><tspan font-style="italic">y</tspan> <tspan font-weight="bold">=</tspan> 20 <tspan font-weight="bold">+</tspan> 0.057 <tspan font-style="italic">x</tspan></text><text x="328.3" y="277.6" font-size="8px" fill="#000" stroke="#000" stroke-width="0.15">r<tspan font-size="5.5px" dy="1.2">s</tspan><tspan dy="-1.2"> </tspan><tspan font-weight="bold">=</tspan> 0.135 ***</text>
</svg></body></html>
